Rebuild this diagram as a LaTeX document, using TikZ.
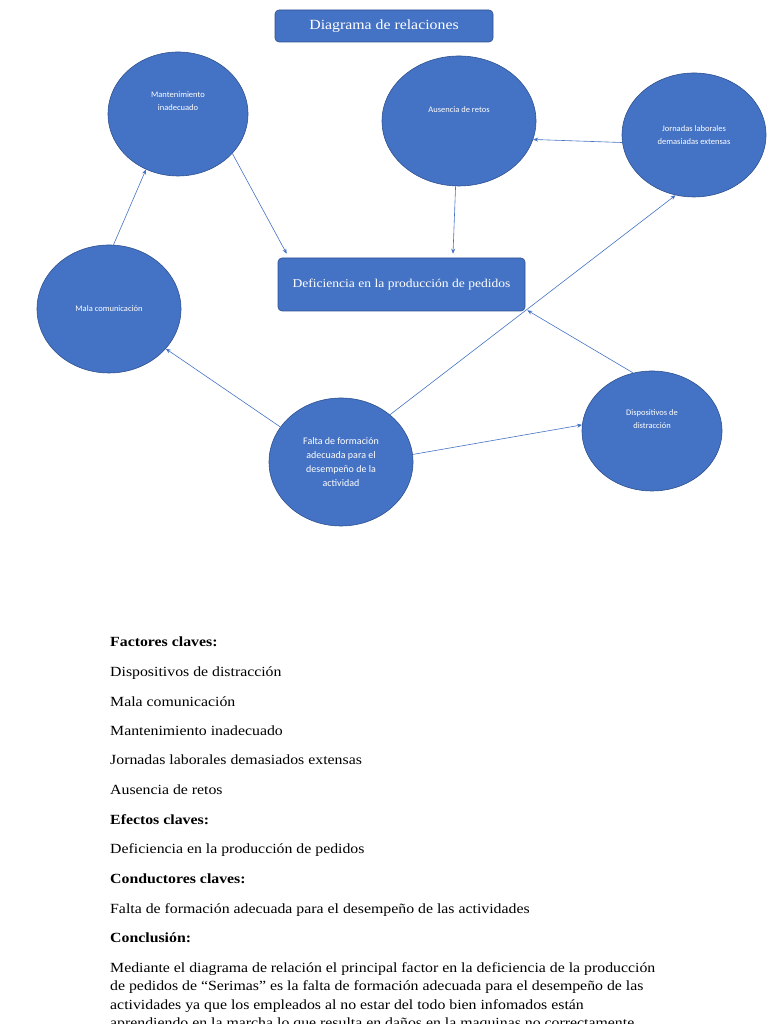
\documentclass[tikz,border=0pt]{standalone}
\usepackage{fontspec}
\setmainfont{Liberation Serif}
\newfontfamily\bodyf[FakeStretch=1.13]{Liberation Serif}
\newfontfamily\calib{Carlito}
\usetikzlibrary{shapes.geometric,arrows.meta}
\definecolor{nblue}{HTML}{4472C4}
\definecolor{eblue}{HTML}{2F528F}
\begin{document}
\begin{tikzpicture}[x=1pt,y=1pt,
  circ/.style={ellipse,fill=nblue,draw=eblue,line width=0.6pt,inner sep=0pt,text=white,align=center,font=\calib\fontsize{8.5}{13}\selectfont},
  rbox/.style={rectangle,rounded corners=4pt,fill=nblue,draw=eblue,line width=0.6pt,text=white,inner sep=0pt},
  conn/.style={draw=nblue,line width=0.6pt,-{Stealth[length=5pt,width=4pt]}},
  txt/.style={anchor=base west,inner sep=0pt,font=\bodyf\fontsize{14}{16}\selectfont},
  btxt/.style={txt,font=\bodyf\bfseries\fontsize{14}{16}\selectfont}]
\useasboundingbox (0,0) rectangle (768,1024);
\node[rbox,minimum width=218pt,minimum height=32pt,font=\bodyf\fontsize{14}{15}\selectfont] (title) at (384,998) {Diagrama de relaciones};
\node[rbox,minimum width=247pt,minimum height=53pt,font=\bodyf\fontsize{12}{14}\selectfont] (def) at (401.5,739.5) {Deficiencia en la producción de pedidos};
\node[circ,minimum width=140pt,minimum height=124pt] (mant) at (178,910) {Mantenimiento\\inadecuado\\[12pt]};
\node[circ,minimum width=154pt,minimum height=130pt] (aus) at (459,903) {Ausencia de retos\\[10pt]};
\node[circ,minimum width=144pt,minimum height=124pt] (jor) at (694,889) {Jornadas laborales\\demasiadas extensas};
\node[circ,minimum width=144pt,minimum height=128pt] (mala) at (109,715) {Mala comunicación};
\node[circ,minimum width=144pt,minimum height=128pt,font=\calib\fontsize{10}{14}\selectfont] (falta) at (341,562) {Falta de formación\\adecuada para el\\desempeño de la\\actividad};
\node[circ,minimum width=140pt,minimum height=120pt] (disp) at (652,593) {Dispositivos de\\distracción\\[10pt]};
\draw[conn] (mala.86) -- (mant.240);
\draw[conn] (mant.324) -- ([xshift=9pt,yshift=4pt]def.north west);
\draw[conn] (aus.267) -- ([xshift=51.5pt,yshift=4pt]def.north);
\draw[conn] (jor.186) -- (aus.346);
\draw[conn] (falta.150) -- (mala.325);
\draw[conn] (falta.44) -- (jor.253);
\draw[conn] (falta.6) -- (disp.175);
\draw[conn] (disp.108) -- ([xshift=2pt,yshift=1pt]def.south east);
\node[btxt] (t1) at (110,377) {Factores claves:};
\node[txt] (t2) at (110,347) {Dispositivos de distracción};
\node[txt] (t3) at (110,317) {Mala comunicación};
\node[txt] (t4) at (110,288) {Mantenimiento inadecuado};
\node[txt] (t5) at (110,259) {Jornadas laborales demasiados extensas};
\node[txt] (t6) at (110,229) {Ausencia de retos};
\node[btxt] (t7) at (110,199) {Efectos claves:};
\node[txt] (t8) at (110,170) {Deficiencia en la producción de pedidos};
\node[btxt] (t9) at (110,140) {Conductores claves:};
\node[txt] (t10) at (110,110) {Falta de formación adecuada para el desempeño de las actividades};
\node[btxt] (t11) at (110,81) {Conclusión:};
\node[txt] (p1) at (110,51) {Mediante el diagrama de relación el principal factor en la deficiencia de la producción};
\node[txt] (p2) at (110,33) {de pedidos de “Serimas” es la falta de formación adecuada para el desempeño de las};
\node[txt] (p3) at (110,14) {actividades ya que los empleados al no estar del todo bien infomados están};
\node[txt] (p4) at (110,-4) {aprendiendo en la marcha lo que resulta en daños en la maquinas no correctamente};
\end{tikzpicture}
\end{document}
